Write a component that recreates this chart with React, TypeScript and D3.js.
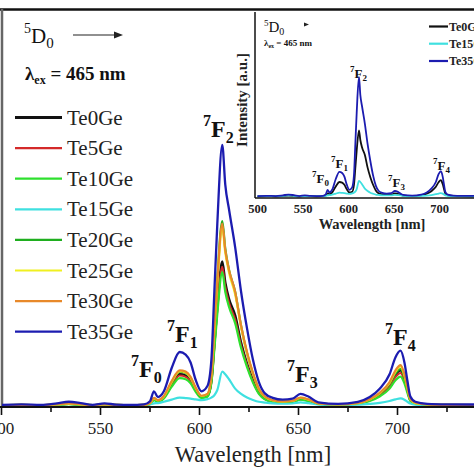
import React from "react";
import * as d3 from "d3";

// ---------- data ----------
const wavelengths = [500, 510, 520, 528, 534, 540, 546, 552, 558, 565, 572, 575, 577, 579, 582, 586, 590, 593, 595.5, 598, 601, 604, 606, 607.5, 609, 611.5, 613, 615, 618, 621, 624, 627, 630, 633, 637, 642, 647, 651, 655, 660, 670, 680, 686, 691, 696, 699, 701.5, 703.5, 705, 706.5, 709, 715, 725, 750];

const te0Ge = [0.6, 0.7, 0.6, 0.9, 1.2, 0.9, 0.6, 0.9, 0.7, 0.6, 0.7, 1.3, 3.0, 2.3, 3.7, 8.8, 12.5, 12, 10.2, 6.6, 3.8, 4.3, 10, 24, 38.5, 55.5, 47.5, 41, 35, 24.5, 16.5, 10.2, 5.5, 3.2, 2.2, 1.8, 2.0, 3.1, 2.5, 1.2, 0.9, 1.4, 2.7, 4.8, 8.5, 12.3, 14, 10.8, 6.5, 2.7, 1.4, 0.9, 0.7, 0.6];
const te5Ge = [0.6, 0.7, 0.6, 0.9, 1.2, 0.9, 0.6, 0.9, 0.7, 0.6, 0.7, 1.2, 2.9, 2.2, 3.6, 8.5, 12, 11.5, 9.8, 6.4, 3.7, 4.2, 9.7, 23, 37, 53.5, 46, 39.5, 33.5, 23.5, 16, 9.8, 5.3, 3.1, 2.1, 1.7, 1.9, 3.0, 2.4, 1.2, 0.9, 1.3, 2.5, 4.5, 7.9, 11.4, 13, 10, 6.0, 2.5, 1.3, 0.9, 0.7, 0.6];
const te10Ge = [0.6, 0.7, 0.6, 0.8, 1.1, 0.8, 0.6, 0.8, 0.7, 0.6, 0.7, 1.1, 2.6, 2.0, 3.3, 7.8, 11, 10.6, 9, 5.9, 3.4, 3.9, 9.2, 22, 35.5, 51.5, 44, 38, 32, 22.5, 15.2, 9.3, 5.0, 2.9, 2.0, 1.6, 1.8, 2.8, 2.2, 1.1, 0.8, 1.2, 2.3, 4.0, 7.0, 10.2, 11.6, 9.0, 5.4, 2.3, 1.2, 0.8, 0.7, 0.6];
const te15Ge = [0.6, 0.7, 0.6, 0.9, 1.3, 1.0, 0.6, 0.8, 0.7, 0.6, 0.7, 1.0, 1.4, 1.5, 2.0, 2.8, 3.6, 3.4, 3.2, 2.9, 2.6, 3.0, 3.6, 4.5, 6.5, 13.5, 12.5, 10.5, 7.0, 5.0, 3.6, 2.7, 2.0, 1.7, 1.4, 1.3, 1.4, 1.8, 1.5, 1.0, 0.8, 0.9, 1.2, 1.6, 2.3, 2.9, 3.3, 2.8, 2.0, 1.3, 0.9, 0.7, 0.6, 0.6];
const te20Ge = [0.7, 0.8, 0.7, 1.0, 1.3, 1.0, 0.7, 1.0, 0.8, 0.7, 0.8, 1.4, 3.2, 2.4, 3.9, 9.4, 13.5, 13, 11, 7.1, 4.1, 4.8, 12, 30.5, 49, 71, 60.5, 52, 44, 31, 20.5, 12.6, 6.7, 3.8, 2.5, 2.0, 2.2, 3.4, 2.7, 1.3, 1.0, 1.5, 2.8, 5.0, 8.8, 12.8, 14.5, 11.3, 6.8, 2.8, 1.5, 1.0, 0.8, 0.7];
const te25Ge = [0.7, 0.8, 0.7, 1.0, 1.3, 1.0, 0.7, 1.0, 0.8, 0.7, 0.8, 1.4, 3.3, 2.5, 4.0, 9.6, 13.7, 13.2, 11.2, 7.3, 4.2, 4.9, 11.7, 29.5, 47, 68.5, 59, 51, 43, 30.5, 20.5, 12.7, 6.8, 3.9, 2.5, 2.0, 2.3, 3.5, 2.8, 1.4, 1.0, 1.5, 2.9, 5.2, 9.2, 13.5, 15.5, 12, 7.2, 2.9, 1.5, 1.0, 0.8, 0.7];
const te30Ge = [0.7, 0.8, 0.7, 1.0, 1.4, 1.1, 0.7, 1.0, 0.8, 0.7, 0.8, 1.5, 3.5, 2.6, 4.2, 10, 14, 13.5, 11.5, 7.5, 4.3, 5.0, 12, 30, 48, 70, 60, 52, 44, 31, 21, 13, 7.0, 4.0, 2.6, 2.1, 2.4, 3.6, 2.9, 1.4, 1.0, 1.6, 3.0, 5.4, 9.5, 14, 16, 12.5, 7.5, 3.0, 1.6, 1.0, 0.8, 0.7];
const te35Ge = [0.8, 1.0, 0.8, 1.4, 2.0, 1.5, 0.8, 1.4, 0.9, 0.8, 1.0, 2.2, 6.0, 3.8, 6.0, 15, 21, 20, 17, 10.5, 6.0, 8.0, 18, 44, 70, 100, 85, 75, 61, 44, 30, 18, 9.5, 5.2, 3.5, 2.8, 3.2, 5.0, 4.0, 1.8, 1.2, 2.0, 3.8, 7.0, 12.5, 19, 21.5, 17, 10, 4.0, 2.0, 1.2, 1.0, 0.9];

const seriesNames = ["Te0Ge", "Te5Ge", "Te10Ge", "Te15Ge", "Te20Ge", "Te25Ge", "Te30Ge", "Te35Ge"];
const seriesValues = [te0Ge, te5Ge, te10Ge, te15Ge, te20Ge, te25Ge, te30Ge, te35Ge];
const seriesColors = ["#111111", "#d42a2a", "#2ee02e", "#3fe0e0", "#1fae1f", "#f0f020", "#e8892a", "#1c1cb0"];
const seriesWidths = [2.5, 2, 2.2, 2.2, 2.2, 2.2, 2.2, 2.3];

const insetSeries = ["Te0Ge", "Te15Ge", "Te35Ge"];

const xTicksMajor = [500, 550, 600, 650, 700, 750];
const xTickLabels = [500, 550, 600, 650, 700];
const xTicksMinor = [525, 575, 625, 675, 725];

const W = 474;
const H = 474;
const serif = "'Liberation Serif', 'Times New Roman', serif";

function Term(props: { x: number; y: number; size: number; small: number; sub: string; supDy: number; subDy: number }) {
  const { x, y, size, small, sub, supDy, subDy } = props;
  return (
    <text x={x} y={y} fontFamily={serif} fontWeight="bold" fill="#111">
      <tspan fontSize={small} dy={supDy}>7</tspan>
      <tspan fontSize={size} dy={-supDy}>F</tspan>
      <tspan fontSize={small} dy={subDy}>{sub}</tspan>
    </text>
  );
}

export default function App() {
  // main scales
  const x = d3.scaleLinear().domain([500, 750]).range([1.5, 496.5]);
  const y = d3.scaleLinear().domain([0, 100]).range([407, 145]);
  // inset scales
  const xi = d3.scaleLinear().domain([500, 750]).range([257.5, 485]);
  const yi = d3.scaleLinear().domain([0, 100]).range([197, 77]);

  const mainLine = d3
    .line<number>()
    .x((_, i) => x(wavelengths[i]))
    .y((d) => y(d))
    .curve(d3.curveMonotoneX);
  const insetLine = d3
    .line<number>()
    .x((_, i) => xi(wavelengths[i]))
    .y((d) => yi(d))
    .curve(d3.curveMonotoneX);

  const legendY = (i: number) => 117.5 + 30.6 * i;
  const insetLegendY = [26.5, 43.7, 61];

  const mainTerms = [
    { x: 131, y: 377, sub: "0" },
    { x: 167, y: 342, sub: "1" },
    { x: 203, y: 137, sub: "2" },
    { x: 287, y: 382, sub: "3" },
    { x: 385, y: 345, sub: "4" },
  ];
  const insetTerms = [
    { x: 312, y: 183, sub: "0" },
    { x: 331, y: 168, sub: "1" },
    { x: 350, y: 78, sub: "2" },
    { x: 388, y: 187, sub: "3" },
    { x: 433, y: 170, sub: "4" },
  ];

  return (
    <svg
      width={W}
      height={H}
      viewBox={`0 0 ${W} ${H}`}
      style={{ position: "absolute", left: 0, top: 0, background: "#fff" }}
    >
      <defs>
        <clipPath id="mainClip">
          <rect x={2} y={10} width={W} height={400} />
        </clipPath>
        <clipPath id="insetClip">
          <rect x={256} y={10} width={W - 256} height={190} />
        </clipPath>
      </defs>
      <rect x={0} y={0} width={W} height={H} fill="#fff" />

      {/* frame */}
      <line x1={0} x2={W} y1={9.5} y2={9.5} stroke="#111" strokeWidth={2.5} />
      <line x1={2} x2={2} y1={9} y2={407} stroke="#666" strokeWidth={2.5} />

      {/* main curves */}
      <g clipPath="url(#mainClip)" fill="none" strokeLinejoin="round">
        {seriesValues.map((vals, k) => (
          <path key={seriesNames[k]} d={mainLine(vals) || ""} stroke={seriesColors[k]} strokeWidth={seriesWidths[k]} />
        ))}
      </g>

      {/* x axis */}
      <line x1={0} x2={W} y1={407} y2={407} stroke="#111" strokeWidth={2} />
      {xTicksMajor.map((t) => (
        <line key={"M" + t} x1={x(t)} x2={x(t)} y1={407} y2={415} stroke="#111" strokeWidth={1.6} />
      ))}
      {xTickLabels.map((t) => (
        <text key={"L" + t} x={x(t)} y={434} textAnchor="middle" fontFamily={serif} fontSize={17} fill="#222">
          {t}
        </text>
      ))}
      {xTicksMinor.map((t) => (
        <line key={"m" + t} x1={x(t)} x2={x(t)} y1={407} y2={412} stroke="#111" strokeWidth={1.6} />
      ))}
      <text x={253} y={462} textAnchor="middle" fontFamily={serif} fontSize={22.5} fill="#222">
        Wavelength [nm]
      </text>

      {/* 5D0 label and arrow */}
      <text x={24} y={43} fontFamily={serif} fill="#111">
        <tspan fontSize={14} dy={-10}>5</tspan>
        <tspan fontSize={21} dy={10}>D</tspan>
        <tspan fontSize={15} dy={5}>0</tspan>
      </text>
      <line x1={73} x2={116} y1={35} y2={35} stroke="#222" strokeWidth={1.2} />
      <path d="M114,31.5 L123,35 L114,38.5 Z" fill="#222" />
      <text x={25} y={80} fontFamily={serif} fontWeight="bold" fill="#111">
        <tspan fontSize={19}>λ</tspan>
        <tspan fontSize={12} dy={4}>ex</tspan>
        <tspan fontSize={19} dy={-4}> = 465 nm</tspan>
      </text>

      {/* main legend */}
      {seriesNames.map((name, k) => (
        <g key={"lg" + name}>
          <line x1={15} x2={62} y1={legendY(k)} y2={legendY(k)} stroke={seriesColors[k]} strokeWidth={k === 0 ? 2.8 : 2.2} />
          <text x={67} y={legendY(k) + 7} fontFamily={serif} fontSize={21} fill="#222">
            {name}
          </text>
        </g>
      ))}

      {/* main transition labels */}
      {mainTerms.map((t) => (
        <Term key={"mt" + t.sub} x={t.x} y={t.y} size={24} small={16} sub={t.sub} supDy={-11} subDy={6} />
      ))}

      {/* ---------- inset ---------- */}
      <g clipPath="url(#insetClip)" fill="none" strokeLinejoin="round">
        {insetSeries.map((name) => {
          const k = seriesNames.indexOf(name);
          return <path key={"in" + name} d={insetLine(seriesValues[k]) || ""} stroke={seriesColors[k]} strokeWidth={1.8} />;
        })}
      </g>
      <line x1={255} x2={255} y1={12} y2={198} stroke="#111" strokeWidth={1.5} />
      <line x1={255} x2={W} y1={198} y2={198} stroke="#111" strokeWidth={1.5} />
      {xTickLabels.map((t) => (
        <text key={"it" + t} x={xi(t)} y={212.5} textAnchor="middle" fontFamily={serif} fontWeight="bold" fontSize={12.5} fill="#222">
          {t}
        </text>
      ))}
      <text x={372} y={229} textAnchor="middle" fontFamily={serif} fontWeight="bold" fontSize={14.5} fill="#222">
        Wavelength [nm]
      </text>
      <text
        transform="translate(247,100) rotate(-90)"
        textAnchor="middle"
        fontFamily={serif}
        fontWeight="bold"
        fontSize={15}
        fill="#222"
      >
        Intensity [a.u.]
      </text>
      <text x={264} y={32} fontFamily={serif} fill="#111">
        <tspan fontSize={9} dy={-6}>5</tspan>
        <tspan fontSize={15} dy={6}>D</tspan>
        <tspan fontSize={10} dy={3}>0</tspan>
      </text>
      <path d="M304,22.5 L309,24.5 L304,26.5 Z" fill="#222" />
      <text x={264} y={46} fontFamily={serif} fontWeight="bold" fill="#111">
        <tspan fontSize={9}>λ</tspan>
        <tspan fontSize={6} dy={2}>ex</tspan>
        <tspan fontSize={9} dy={-2}> = 465 nm</tspan>
      </text>
      {insetSeries.map((name, j) => {
        const k = seriesNames.indexOf(name);
        return (
          <g key={"ilg" + name}>
            <line x1={429} x2={448} y1={insetLegendY[j]} y2={insetLegendY[j]} stroke={seriesColors[k]} strokeWidth={2.2} />
            <text x={449} y={insetLegendY[j] + 4} fontFamily={serif} fontWeight="bold" fontSize={12} fill="#222">
              {name}
            </text>
          </g>
        );
      })}
      {insetTerms.map((t) => (
        <Term key={"it" + t.sub} x={t.x} y={t.y} size={13} small={9} sub={t.sub} supDy={-6} subDy={3} />
      ))}
    </svg>
  );
}
